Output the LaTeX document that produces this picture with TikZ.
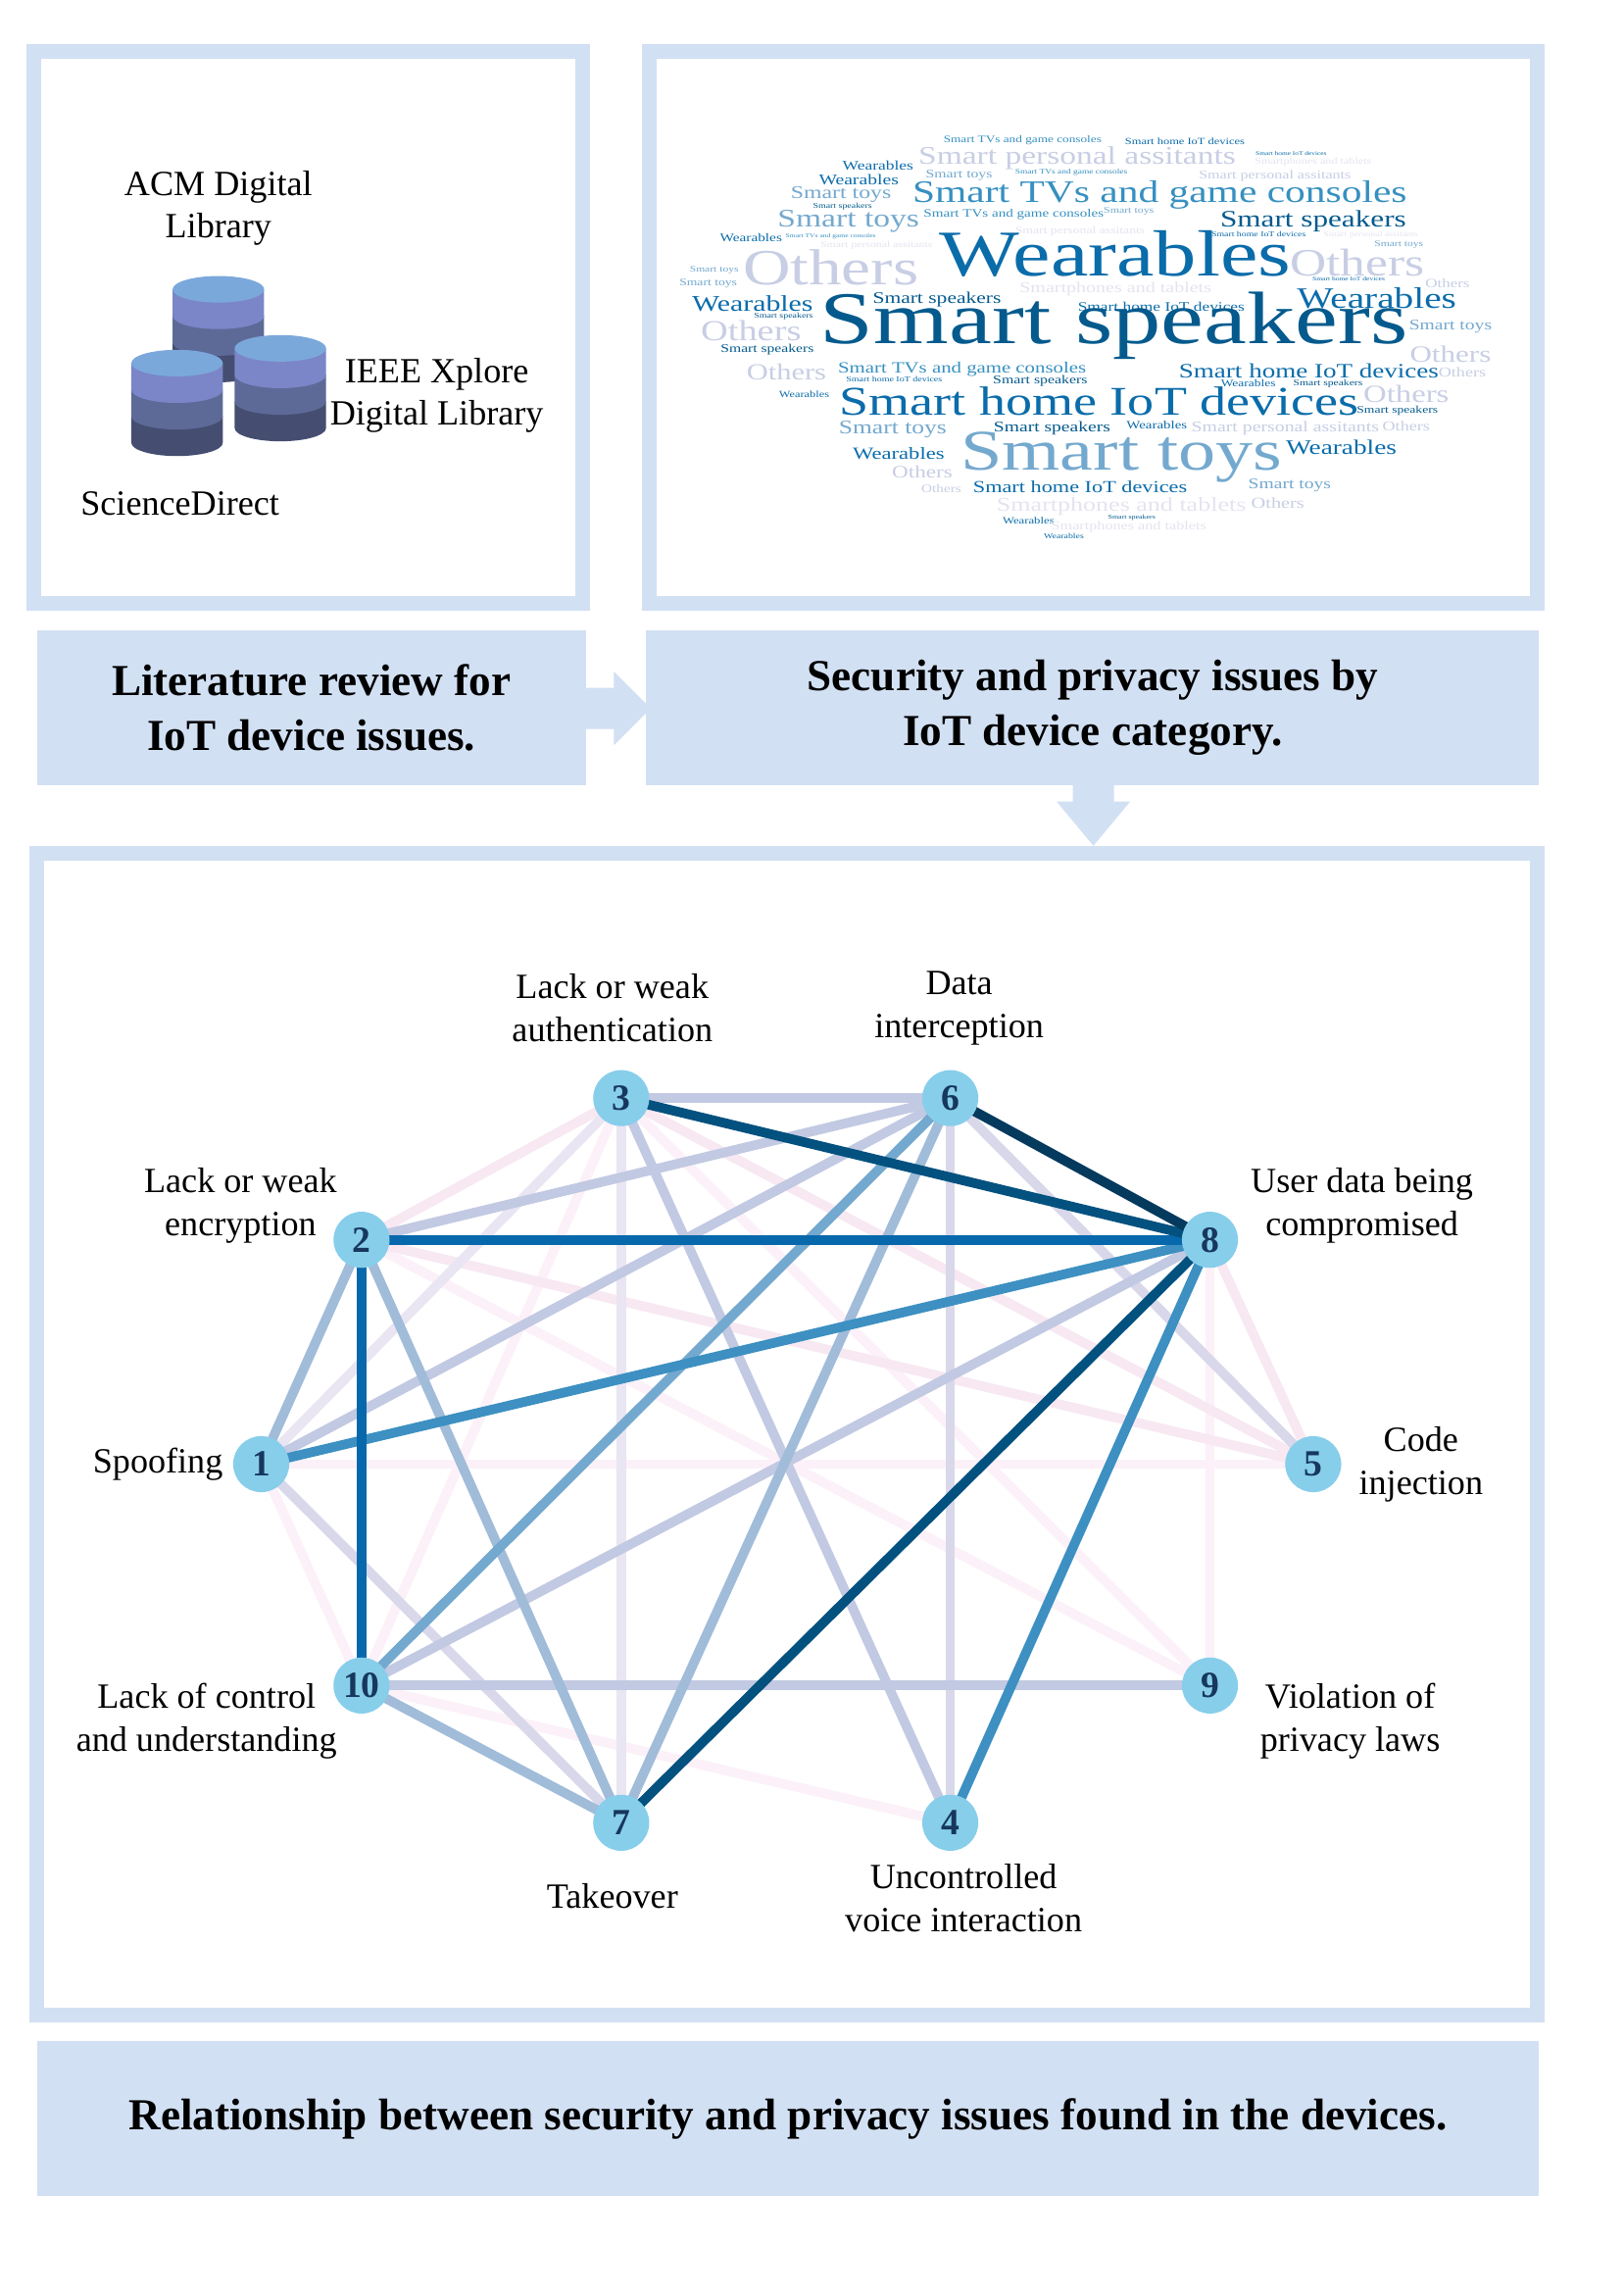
\documentclass[tikz,border=0pt]{standalone}
\usepackage{fontspec}
\setmainfont{Liberation Serif}
\usepackage{graphicx}
\pgfdeclarelayer{edgelayer}
\pgfdeclarelayer{nodelayer}
\pgfsetlayers{main,edgelayer,nodelayer}
\definecolor{frame}{HTML}{D2E0F3}
\definecolor{vp}{HTML}{FCF1F8}
\definecolor{lp}{HTML}{F7E8F2}
\definecolor{lav}{HTML}{E9E5F2}
\definecolor{lavb}{HTML}{D8D8EA}
\definecolor{gb}{HTML}{C2C9E2}
\definecolor{gbm}{HTML}{A0BCD9}
\definecolor{mb}{HTML}{74A9CF}
\definecolor{bf}{HTML}{3D90C1}
\definecolor{bb}{HTML}{0868AC}
\definecolor{db}{HTML}{03517F}
\definecolor{ddb}{HTML}{033A5E}
\definecolor{nodef}{HTML}{87CEEB}
\definecolor{nodet}{HTML}{17375E}
\definecolor{wc1}{HTML}{045A8D}
\definecolor{wc2}{HTML}{0B6CAA}
\definecolor{wc3}{HTML}{3690C0}
\definecolor{wc4}{HTML}{74A9CF}
\definecolor{wc5}{HTML}{C8CEE4}
\definecolor{wc6}{HTML}{E6E3F0}
\definecolor{cyt}{HTML}{7BA8DB}
\definecolor{cy1}{HTML}{7A86C8}
\definecolor{cy2}{HTML}{5D6A98}
\definecolor{cy3}{HTML}{454E70}
\newcommand\wcw[6]{\node[inner sep=0,text=#5] (#1) at (#2,#3) {\resizebox{#4pt}{!}{\scalebox{1.3}[1]{#6}}};}
\newcommand\dbcyl[2]{%
 \fill[cy3] (#1-31,#2+36) -- (#1-31,#2+54) arc (180:0:31 and 9) -- (#1+31,#2+36) -- cycle;
 \fill[cy2] (#1-31,#2+18) -- (#1-31,#2+36) arc (180:0:31 and 9) -- (#1+31,#2+18) -- cycle;
 \fill[cy1] (#1-31,#2) -- (#1-31,#2+18) arc (180:0:31 and 9) -- (#1+31,#2) -- cycle;
 \fill[cyt] (#1,#2) ellipse (31 and 9);}
\begin{document}
\begin{tikzpicture}[x=1pt,y=-1pt,
  frm/.style={draw=frame,line width=10pt,fill=white},
  capbox/.style={fill=frame,draw=none},
  captxt/.style={font=\fontsize{30}{37}\selectfont\bfseries,align=center,text=black},
  lbl/.style={font=\fontsize{24}{29}\selectfont,align=center,text=black},
  nd/.style={circle,fill=nodef,minimum size=38pt,inner sep=0,text=nodet,font=\fontsize{25}{25}\selectfont\bfseries},
  e/.style={line width=6.5pt}]
\useasboundingbox (0,0) rectangle (1100,1553.6);
\fill[white] (0,0) rectangle (1100,1553.6);
% frames
\draw[frm] (23,35) rectangle (395,409);
\draw[frm] (440,35) rectangle (1042,409);
\draw[frm] (25,578) rectangle (1042,1365);
% caption boxes
\node[capbox,minimum width=372pt,minimum height=105pt] (c1) at (211,479.5) {};
\node[captxt] at (c1) {Literature review for\\IoT device issues.};
\node[capbox,minimum width=605pt,minimum height=105pt] (c2) at (740.5,479.5) {};
\node[captxt] at (c2) {Security and privacy issues by\\IoT device category.};
\node[capbox,minimum width=1018pt,minimum height=105pt] (c3) at (534,1435.5) {};
\node[captxt] at (c3) {Relationship between security and privacy issues found in the devices.};
\fill[frame] (397,466) -- (416,466) -- (416,455) -- (441,480) -- (416,505) -- (416,494) -- (397,494) -- cycle;
\fill[frame] (727,532) -- (755,532) -- (755,543) -- (766,543) -- (741,573) -- (716,543) -- (727,543) -- cycle;
% databases
\dbcyl{148}{196}
\dbcyl{120}{246}
\dbcyl{190}{236}
\node[lbl] (acm) at (148,141) {ACM Digital\\Library};
\node[lbl] (ieee) at (296,268) {IEEE Xplore\\Digital Library};
\node[lbl] (sd) at (122,341) {ScienceDirect};
% word cloud
\wcw{w1}{693}{95}{107}{wc3}{Smart TVs and game consoles}
\wcw{w2}{803}{96}{81}{wc2}{Smart home IoT devices}
\wcw{w3}{730}{107}{215}{wc5}{Smart personal assitants}
\wcw{w4}{595}{112}{48}{wc2}{Wearables}
\wcw{w5}{875}{104}{48}{wc2}{Smart home IoT devices}
\wcw{w6}{890}{110}{79}{wc6}{Smartphones and tablets}
\wcw{w7}{582}{122}{54}{wc2}{Wearables}
\wcw{w8}{650}{119}{45}{wc4}{Smart toys}
\wcw{w9}{726}{117}{76}{wc3}{Smart TVs and game consoles}
\wcw{w10}{864}{119}{103}{wc5}{Smart personal assitants}
\wcw{w11}{570}{132}{68}{wc4}{Smart toys}
\wcw{w12}{786}{132}{335}{wc3}{Smart TVs and game consoles}
\wcw{w13}{571}{140}{40}{wc1}{Smart speakers}
\wcw{w14}{575}{150}{96}{wc4}{Smart toys}
\wcw{w15}{687}{145}{122}{wc3}{Smart TVs and game consoles}
\wcw{w16}{765}{143}{34}{wc4}{Smart toys}
\wcw{w17}{890}{150}{126}{wc1}{Smart speakers}
\wcw{w18}{509}{161}{42}{wc2}{Wearables}
\wcw{w19}{563}{160}{61}{wc3}{Smart TVs and game consoles}
\wcw{w20}{732}{157}{88}{wc6}{Smart personal assitants}
\wcw{w21}{853}{159}{64}{wc2}{Smart home IoT devices}
\wcw{w22}{929}{159}{64}{wc6}{Smart personal assitants}
\wcw{w23}{948}{166}{33}{wc4}{Smart toys}
\wcw{w24}{594}{166}{76}{wc6}{Smart personal assitants}
\wcw{w25}{756}{172}{238}{wc2}{Wearables}
\wcw{w26}{563}{181}{119}{wc5}{Others}
\wcw{w27}{920}{178}{91}{wc5}{Others}
\wcw{w28}{484}{183}{33}{wc4}{Smart toys}
\wcw{w29}{480}{192}{39}{wc4}{Smart toys}
\wcw{w30}{756}{196}{130}{wc6}{Smartphones and tablets}
\wcw{w31}{981}{192}{30}{wc5}{Others}
\wcw{w32}{914}{189}{49}{wc2}{Smart home IoT devices}
\wcw{w33}{510}{206}{82}{wc2}{Wearables}
\wcw{w34}{635}{203}{87}{wc1}{Smart speakers}
\wcw{w35}{787}{208}{113}{wc2}{Smart home IoT devices}
\wcw{w36}{933}{202}{108}{wc2}{Wearables}
\wcw{w37}{755}{221}{398}{wc1}{Smart speakers}
\wcw{w38}{509}{224}{68}{wc5}{Others}
\wcw{w39}{531}{214}{40}{wc1}{Smart speakers}
\wcw{w40}{983}{221}{56}{wc4}{Smart toys}
\wcw{w41}{520}{237}{63}{wc1}{Smart speakers}
\wcw{w42}{983}{240}{55}{wc5}{Others}
\wcw{w43}{533}{252}{54}{wc5}{Others}
\wcw{w44}{652}{250}{168}{wc3}{Smart TVs and game consoles}
\wcw{w45}{887}{251}{176}{wc2}{Smart home IoT devices}
\wcw{w46}{991}{252}{32}{wc5}{Others}
\wcw{w47}{606}{257}{65}{wc2}{Smart home IoT devices}
\wcw{w48}{705}{258}{64}{wc1}{Smart speakers}
\wcw{w49}{846}{260}{37}{wc2}{Wearables}
\wcw{w50}{900}{260}{47}{wc1}{Smart speakers}
\wcw{w51}{953}{267}{58}{wc5}{Others}
\wcw{w52}{545}{267}{34}{wc2}{Wearables}
\wcw{w53}{745}{272}{352}{wc2}{Smart home IoT devices}
\wcw{w54}{947}{278}{55}{wc1}{Smart speakers}
\wcw{w55}{605}{291}{73}{wc4}{Smart toys}
\wcw{w56}{713}{290}{79}{wc1}{Smart speakers}
\wcw{w57}{784}{288}{41}{wc2}{Wearables}
\wcw{w58}{871}{290}{127}{wc5}{Smart personal assitants}
\wcw{w59}{953}{289}{32}{wc5}{Others}
\wcw{w60}{760}{310}{218}{wc4}{Smart toys}
\wcw{w61}{609}{307}{62}{wc2}{Wearables}
\wcw{w62}{909}{303}{75}{wc2}{Wearables}
\wcw{w63}{625}{320}{41}{wc5}{Others}
\wcw{w64}{638}{331}{27}{wc5}{Others}
\wcw{w65}{732}{330}{145}{wc2}{Smart home IoT devices}
\wcw{w66}{874}{329}{56}{wc4}{Smart toys}
\wcw{w67}{760}{343}{169}{wc6}{Smartphones and tablets}
\wcw{w68}{866}{341}{36}{wc5}{Others}
\wcw{w69}{697}{353}{35}{wc2}{Wearables}
\wcw{w70}{767}{351}{32}{wc1}{Smart speakers}
\wcw{w71}{765}{357}{105}{wc6}{Smartphones and tablets}
\wcw{w72}{721}{363}{27}{wc2}{Wearables}
% graph nodes
\begin{pgfonlayer}{nodelayer}
\node[nd] (n1) at (177,992) {1};
\node[nd] (n2) at (245,840) {2};
\node[nd] (n3) at (421,744) {3};
\node[nd] (n6) at (644,744) {6};
\node[nd] (n8) at (820,840) {8};
\node[nd] (n5) at (890,992) {5};
\node[nd] (n9) at (820,1142) {9};
\node[nd] (n4) at (644,1235) {4};
\node[nd] (n7) at (421,1235) {7};
\node[nd] (n10) at (245,1142) {10};
\end{pgfonlayer}
% edges (light first)
\begin{pgfonlayer}{edgelayer}
\foreach \a/\b/\c in {n3/n10/vp,n3/n9/vp,n1/n5/vp,n1/n10/vp,n8/n9/vp,n10/n4/vp,n2/n9/vp,
  n3/n2/lp,n3/n5/lp,n2/n5/lp,n8/n5/lp,
  n3/n1/lav,n3/n7/lav,
  n6/n4/lavb,n6/n5/lavb,n1/n7/lavb,
  n3/n6/gb,n6/n2/gb,n6/n1/gb,n8/n10/gb,n10/n9/gb,n3/n4/gb,
  n6/n7/gbm,n2/n1/gbm,n2/n7/gbm,n10/n7/gbm,
  n6/n10/mb,n1/n8/bf,n8/n4/bf,
  n2/n8/bb,n2/n10/bb,n3/n8/db,n8/n7/db,n6/n8/ddb}
  {\draw[e,\c] (\a.center) -- (\b.center);}
\end{pgfonlayer}
% labels
\node[lbl] (l3) at (415,683) {Lack or weak\\authentication};
\node[lbl] (l6) at (650,683) {Data\\interception};
\node[lbl] (l2) at (163,817) {Lack or weak\\encryption};
\node[lbl] (l8) at (923,817) {User data being\\compromised};
\node[lbl] (l1) at (107,992) {Spoofing};
\node[lbl] (l5) at (963,992) {Code\\injection};
\node[lbl] (l10) at (140,1166) {Lack of control\\and understanding};
\node[lbl] (l9) at (915,1166) {Violation of\\privacy laws};
\node[lbl] (l7) at (415,1285) {Takeover};
\node[lbl] (l4) at (653,1286) {Uncontrolled\\voice interaction};
\end{tikzpicture}
\end{document}
